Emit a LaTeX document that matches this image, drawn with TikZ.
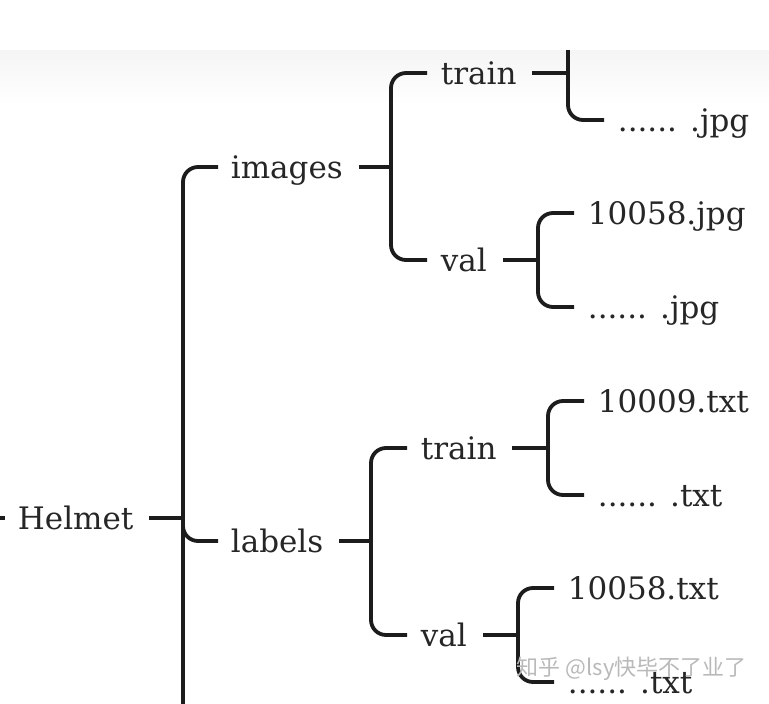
\documentclass[tikz,border=0pt]{standalone}
\usepackage{fontspec}
\setmainfont{DejaVu Serif}
\newfontfamily\cjkfont{Noto Sans CJK SC}
\usetikzlibrary{calc}
\definecolor{tree-ink}{HTML}{1C1C1C}
\definecolor{tree-text}{HTML}{262626}

\begin{document}
\begin{tikzpicture}[x=1pt, y=-1pt, line width=3.8pt,
    item/.style={anchor=west, inner sep=0pt, text height=22pt, text depth=0pt,
                 text=tree-text, font=\fontsize{31}{36}\selectfont},
    branch/.style={draw=tree-ink, rounded corners=15pt}]
    \useasboundingbox (0,0) rectangle (769,704);
    \shade[top color=black!4, bottom color=white] (0,50) rectangle (769,105);
    % root and first level
    \node[item] (helmet) at (16,518) {Helmet};
    \node[item] (images) at (229,167) {images};
    \node[item] (labels) at (229,541) {labels};
    % images
    \node[item] (imgtrain) at (439,73) {train};
    \node[item] (imgval) at (439,260) {val};
    \coordinate (imgtrainup) at (617,26);
    \node[item] (imgtrainjpg) at (616,120) {...... .jpg};
    \node[item] (imgval58) at (586,213) {10058.jpg};
    \node[item] (imgvaljpg) at (586,307) {...... .jpg};
    % labels
    \node[item] (labtrain) at (419,448) {train};
    \node[item] (labval) at (419,635) {val};
    \node[item] (labtrain09) at (596,401) {10009.txt};
    \node[item] (labtraintxt) at (596,495) {...... .txt};
    \node[item] (labval58) at (566,588) {10058.txt};
    \node[item] (labvaltxt) at (566,682) {...... .txt};
    % root branch
    \coordinate (hroot) at (-10,518);
    \coordinate (hbottom) at (183,720);
    \draw[branch] (hroot) -- ([xshift=-11pt]helmet.west);
    \draw[branch] ([xshift=14pt]helmet.east) -- ([xshift=-46pt]images.west |- helmet.east);
    \draw[branch] ([xshift=-11pt]images.west) -| (hbottom);
    \draw[branch] ([xshift=-46pt]labels.west |- helmet.east) |- ([xshift=-11pt]labels.west);
    % brackets
    \foreach \p/\a/\b in {images/imgtrain/imgval, imgtrain/imgtrainup/imgtrainjpg,
                          imgval/imgval58/imgvaljpg, labels/labtrain/labval,
                          labtrain/labtrain09/labtraintxt, labval/labval58/labvaltxt} {
        \draw[branch] ([xshift=14pt]\p.east) -- ([xshift=-48pt]\b.west |- \p.east);
        \draw[branch] ([xshift=-12pt]\a.west) -| ([xshift=-48pt]\b.west |- \p.east)
            |- ([xshift=-12pt]\b.west);
    }
    \node[anchor=west, inner sep=0pt, text=gray!55, font=\cjkfont\fontsize{22}{26}\selectfont]
        (mark) at (515,669) {知乎 @lsy快毕不了业了};
    \fill[white] (0,0) rectangle (769,50);
\end{tikzpicture}
\end{document}
